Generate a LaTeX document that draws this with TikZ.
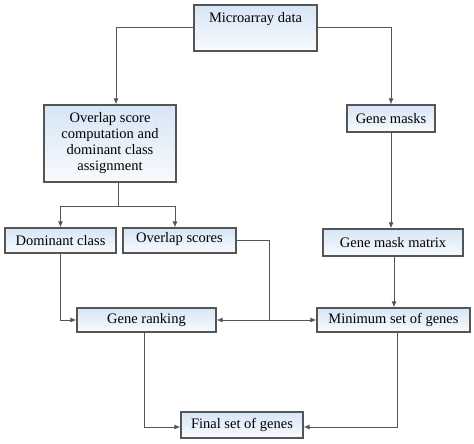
\documentclass[tikz,border=0pt]{standalone}
\usepackage{fontspec}
\setmainfont{Liberation Serif}
\newfontfamily\blockfont{Liberation Serif}
\usetikzlibrary{arrows.meta}
\definecolor{boxtop}{RGB}{214,229,245}
\definecolor{boxbottom}{RGB}{248,251,254}
\definecolor{edgegray}{RGB}{85,85,85}
\tikzset{%
  every block/.style={
    rectangle,
    draw=edgegray,
    line width=1.1pt,
    top color=boxtop,
    bottom color=boxbottom,
    inner sep=0pt,
    align=center,
    font=\blockfont\fontsize{14.5}{16}\selectfont
  },
  flow line/.style={
    draw=edgegray,
    line width=1pt
  },
}
\begin{document}
\begin{tikzpicture}[x=1pt, y=-1pt, >={Latex[length=6pt,width=5pt]}]
  \useasboundingbox (0,0) rectangle (474,444);

  % Top block
  \node [every block, minimum width=123pt, minimum height=46pt, text depth=22pt]
    (micro) at (255.5,28) {Microarray data};

  % Second row
  \node [every block, minimum width=132pt, minimum height=77pt]
    (overlap) at (110,143.5) {Overlap score\\computation and\\dominant class\\assignment};
  \node [every block, minimum width=88pt, minimum height=27pt]
    (masks) at (391,118.5) {Gene masks};

  % Third row
  \node [every block, minimum width=111pt, minimum height=25pt]
    (dominant) at (60.5,240.5) {Dominant class};
  \node [every block, minimum width=113pt, minimum height=25pt, text depth=6pt]
    (scores) at (179.5,240.5) {Overlap scores};
  \node [every block, minimum width=140pt, minimum height=27pt]
    (matrix) at (393,242.5) {Gene mask matrix};

  % Fourth row
  \node [every block, minimum width=139pt, minimum height=24pt]
    (ranking) at (146.5,320) {Gene ranking};
  \node [every block, minimum width=153pt, minimum height=24pt]
    (minimum) at (393.5,320) {Minimum set of genes};

  % Bottom block
  \node [every block, minimum width=122pt, minimum height=26pt]
    (final) at (242,425) {Final set of genes};

  % Lines from the top block
  \draw [flow line, ->] (micro.west) -| ([xshift=6pt]overlap.north);
  \draw [flow line, ->] (micro.east) -| (masks.north);

  % Split below the overlap block
  \coordinate (split) at (118,206);
  \draw [flow line] (overlap.south -| split) -- (split);
  \draw [flow line, ->] (split) -| (dominant.north);
  \draw [flow line, ->] (split) -| ([xshift=-4.5pt]scores.north);

  % Gene mask branch
  \draw [flow line, ->] (masks.south) -- (masks.south |- matrix.north);
  \draw [flow line, ->] ([xshift=1pt]matrix.south) -- ([xshift=1pt]matrix.south |- minimum.north);

  % Lines into the ranking blocks
  \coordinate (join) at (269,320);
  \draw [flow line, ->] (dominant.south) |- (ranking.west);
  \draw [flow line] (scores.east) -| (join);
  \draw [flow line, ->] (join) -- (ranking.east);
  \draw [flow line, ->] (join) -- (minimum.west);

  % Lines to the final block
  \draw [flow line, ->] ([xshift=-2.5pt]ranking.south) |- ([yshift=-2pt]final.west);
  \draw [flow line, ->] ([xshift=3.5pt]minimum.south) |- ([yshift=-2pt]final.east);

\end{tikzpicture}
\end{document}
